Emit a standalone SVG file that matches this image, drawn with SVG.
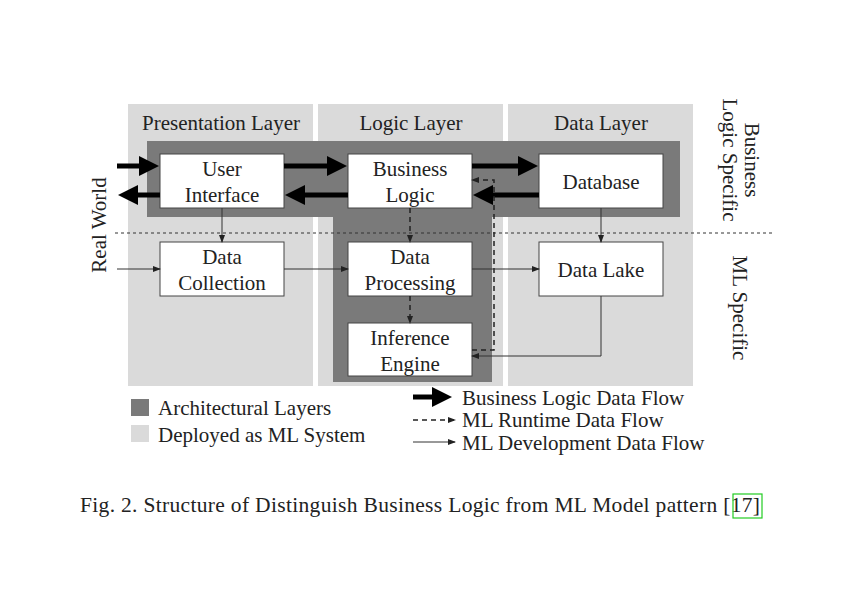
<svg xmlns="http://www.w3.org/2000/svg" width="842" height="596" viewBox="0 0 842 596">
<style>
text{font-family:"Liberation Serif",serif;fill:#222}
.lt{fill:#dadada}.dk{fill:#7a7a7a}
.box{fill:#fff;stroke:#444;stroke-width:1}
.t{font-size:21px;text-anchor:middle}
.th{stroke:#000;stroke-width:5;fill:none}
.ds{stroke:#222;stroke-width:1.5;stroke-dasharray:5,4;fill:none}
.tn{stroke:#333;stroke-width:1;fill:none}
</style>
<defs>
<marker id="mb" markerWidth="4" markerHeight="4" refX="2.2" refY="2" orient="auto" markerUnits="strokeWidth"><path d="M0,0L4,2L0,4z" fill="#000"/></marker>
<marker id="ms" markerWidth="8" markerHeight="8" refX="7" refY="4" orient="auto" markerUnits="userSpaceOnUse"><path d="M0,1L8,4L0,7z" fill="#222"/></marker>
</defs>
<rect width="842" height="596" fill="#fff"/>
<g id="layers">
<rect class="lt" x="128" y="104" width="185" height="282"/>
<rect class="lt" x="318" y="104" width="185" height="282"/>
<rect class="lt" x="508" y="104" width="185" height="282"/>
<path class="dk" d="M147,141H680V217H492V382H333V217H147z"/>
<text class="t" x="221" y="130">Presentation Layer</text>
<text class="t" x="411" y="130">Logic Layer</text>
<text class="t" x="601" y="130">Data Layer</text>
</g>
<line x1="115" y1="233" x2="772" y2="233" stroke="#333" stroke-dasharray="3,3"/>
<g id="ui"><rect class="box" x="160" y="154" width="124" height="54"/><text class="t" x="222" y="176">User</text><text class="t" x="222" y="202">Interface</text></g>
<g id="bl"><rect class="box" x="348" y="154" width="124" height="54"/><text class="t" x="410" y="176">Business</text><text class="t" x="410" y="202">Logic</text></g>
<g id="db"><rect class="box" x="539" y="154" width="124" height="54"/><text class="t" x="601" y="189">Database</text></g>
<g id="dc"><rect class="box" x="160" y="242" width="124" height="54"/><text class="t" x="222" y="264">Data</text><text class="t" x="222" y="290">Collection</text></g>
<g id="dp"><rect class="box" x="348" y="242" width="124" height="54"/><text class="t" x="410" y="264">Data</text><text class="t" x="410" y="290">Processing</text></g>
<g id="dl"><rect class="box" x="539" y="242" width="124" height="54"/><text class="t" x="601" y="277">Data Lake</text></g>
<g id="ie"><rect class="box" x="348" y="323" width="124" height="53"/><text class="t" x="410" y="345">Inference</text><text class="t" x="410" y="371">Engine</text></g>
<g id="connectors">
<line class="th" x1="117" y1="166" x2="150" y2="166" marker-end="url(#mb)"/>
<line class="th" x1="284" y1="166" x2="338" y2="166" marker-end="url(#mb)"/>
<line class="th" x1="472" y1="166" x2="529" y2="166" marker-end="url(#mb)"/>
<line class="th" x1="539" y1="195" x2="482" y2="195" marker-end="url(#mb)"/>
<line class="th" x1="348" y1="195" x2="294" y2="195" marker-end="url(#mb)"/>
<line class="th" x1="160" y1="195" x2="127" y2="195" marker-end="url(#mb)"/>
<line class="ds" x1="410" y1="208" x2="410" y2="242" marker-end="url(#ms)"/>
<line class="ds" x1="410" y1="296" x2="410" y2="323" marker-end="url(#ms)"/>
<path class="ds" d="M472,350H494V180H472" marker-end="url(#ms)"/>
<line class="tn" x1="222" y1="208" x2="222" y2="242" marker-end="url(#ms)"/>
<line class="tn" x1="117" y1="269" x2="160" y2="269" marker-end="url(#ms)"/>
<line class="tn" x1="284" y1="269" x2="348" y2="269" marker-end="url(#ms)"/>
<line class="tn" x1="472" y1="269" x2="539" y2="269" marker-end="url(#ms)"/>
<line class="tn" x1="601" y1="208" x2="601" y2="242" marker-end="url(#ms)"/>
<path class="tn" d="M601,296V356H472" marker-end="url(#ms)"/>
</g>
<g id="side">
<text class="t" transform="translate(106,225) rotate(-90)">Real World</text>
<text class="t" transform="translate(745,160) rotate(90)">Business</text>
<text class="t" transform="translate(723,160) rotate(90)">Logic Specific</text>
<text class="t" transform="translate(733,308) rotate(90)">ML Specific</text>
</g>
<g id="legend">
<rect class="dk" x="131" y="399" width="18" height="17"/>
<rect class="lt" x="131" y="425" width="18" height="17"/>
<text x="158" y="415" font-size="21">Architectural Layers</text>
<text x="158" y="442" font-size="21">Deployed as ML System</text>
<line class="th" x1="413" y1="397" x2="443" y2="397" marker-end="url(#mb)"/>
<line class="ds" x1="413" y1="420" x2="455" y2="420" marker-end="url(#ms)"/>
<line class="tn" x1="413" y1="442" x2="455" y2="442" marker-end="url(#ms)"/>
<text x="462" y="405" font-size="21">Business Logic Data Flow</text>
<text x="462" y="427" font-size="21">ML Runtime Data Flow</text>
<text x="462" y="450" font-size="21">ML Development Data Flow</text>
</g>
<g id="caption">
<text x="80" y="512" font-size="21.5" textLength="680" lengthAdjust="spacing">Fig. 2.  Structure of Distinguish Business Logic from ML Model pattern [17]</text>
<rect x="733" y="494" width="29" height="24" fill="none" stroke="#2c2" stroke-width="1.2"/>
</g>
</svg>
